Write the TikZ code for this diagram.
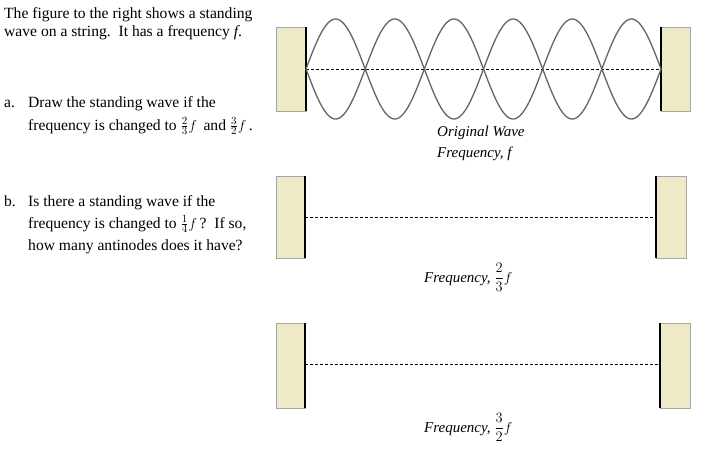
\documentclass[tikz,border=0pt]{standalone}
\usepackage{fontspec}
\setmainfont{Liberation Serif}
\definecolor{wallc}{RGB}{238,234,200}
\definecolor{wavec}{RGB}{100,100,100}
\tikzset{
  wall/.style={fill=wallc,draw=gray!70,line width=0.6pt},
  walledge/.style={line width=1.6pt,black},
  str/.style={line width=0.7pt,dash pattern=on 3pt off 2pt},
  txt/.style={anchor=base west,font=\fontsize{15.6}{17}\selectfont,inner sep=0pt},
  captxt/.style={anchor=base west,font=\fontsize{15}{17}\selectfont\itshape,inner sep=0pt},
  wave/.style={wavec,line width=1.3pt}
}
\begin{document}
\begin{tikzpicture}[x=1pt,y=-1pt]
\useasboundingbox (0,0) rectangle (709,453);
% text
\node[txt] (t1) at (4,18) {The figure to the right shows a standing};
\node[txt] (t2) at (4,36) {wave on a string.\, It has a frequency \textit{f}.};
\node[txt] (a1) at (4,107) {a.};
\node[txt] (a2) at (28,107) {Draw the standing wave if the};
\node[txt] (a3) at (28,130) {frequency is changed to $\frac{2}{3}f$ \,and $\frac{3}{2}f$\,.};
\node[txt] (b1) at (4,206) {b.};
\node[txt] (b2) at (28,206) {Is there a standing wave if the};
\node[txt] (b3) at (28,228) {frequency is changed to $\frac{1}{4}f$\,? \,If so,};
\node[txt] (b4) at (28,250) {how many antinodes does it have?};
% top wave
\filldraw[wall] (276,27) rectangle (306,111);
\filldraw[wall] (661,27) rectangle (690,111);
\draw[walledge] (306,27) -- (306,111);
\draw[walledge] (661,27) -- (661,111);
\draw[str] (306,69) -- (661,69);
\foreach \i in {0,...,5}{
  \draw[wave,domain=0:1,samples=40,smooth] plot ({306+59.17*\i+59.17*\x},{69-50*sin(180*\x)});
  \draw[wave,domain=0:1,samples=40,smooth] plot ({306+59.17*\i+59.17*\x},{69+50*sin(180*\x)});
}
\node[captxt] (c1) at (437,136) {Original Wave};
\node[captxt] (c2) at (437,157) {Frequency, \textit{f}};
% second
\filldraw[wall] (276,176) rectangle (305,258);
\filldraw[wall] (656,176) rectangle (686,258);
\draw[walledge] (305,176) -- (305,258);
\draw[walledge] (656,176) -- (656,258);
\draw[str] (305,217) -- (656,217);
\node[captxt] (c3) at (424,282) {Frequency, $\displaystyle\frac{2}{3}f$};
% third
\filldraw[wall] (276,323) rectangle (305,408);
\filldraw[wall] (660,323) rectangle (690,408);
\draw[walledge] (305,323) -- (305,408);
\draw[walledge] (660,323) -- (660,408);
\draw[str] (305,364) -- (660,364);
\node[captxt] (c4) at (424,432) {Frequency, $\displaystyle\frac{3}{2}f$};
\end{tikzpicture}
\end{document}
